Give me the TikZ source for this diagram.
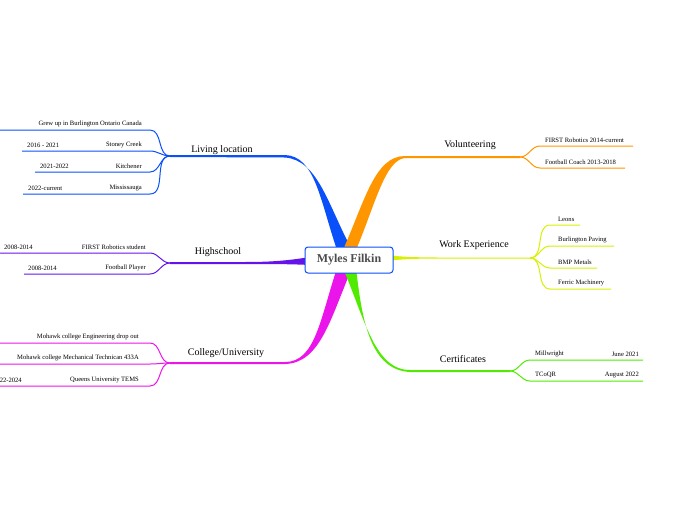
\documentclass[tikz,border=0pt]{standalone}
\usepackage{fontspec}
\setmainfont{Liberation Serif}
\begin{document}
\begin{tikzpicture}[x=1pt,y=-1pt,
  main/.style={font=\fontsize{10}{11}\selectfont,inner sep=1pt},
  leaf/.style={font=\fontsize{6.6}{7.5}\selectfont,inner sep=1pt},
  sub/.style={line width=1pt,rounded corners=0pt}]
\useasboundingbox (0,0) rectangle (697,520);
\definecolor{cLiv}{RGB}{10,80,250}
\definecolor{cHs}{RGB}{100,20,235}
\definecolor{cCol}{RGB}{235,20,235}
\definecolor{cVol}{RGB}{255,150,0}
\definecolor{cWork}{RGB}{215,240,0}
\definecolor{cCert}{RGB}{80,235,0}
% tapered main branches
\fill[cLiv] (337,250) .. controls (320,200) and (315,156) .. (285,155) -- (170,155) -- (170,157) -- (285,157.5) .. controls (318,160) and (328,205) .. (352,250) -- cycle;
\fill[cHs] (310,257) .. controls (280,262) and (260,262) .. (240,262) -- (170,262) -- (170,264) -- (240,264) .. controls (270,264) and (290,264) .. (310,265) -- cycle;
\fill[cCol] (337,268) .. controls (320,320) and (315,362) .. (285,362) -- (170,362) -- (170,364) -- (285,364) .. controls (320,363) and (330,320) .. (352,268) -- cycle;
\fill[cVol] (343,250) .. controls (365,200) and (375,156) .. (405,156) -- (520,156) -- (520,158) -- (405,158) .. controls (385,160) and (375,205) .. (356,250) -- cycle;
\fill[cWork] (388,255) .. controls (400,257) and (420,257.5) .. (440,257.5) -- (530,257.5) -- (530,258.5) -- (440,258.5) .. controls (420,258.5) and (400,259) .. (388,261) -- cycle;
\fill[cCert] (343,268) .. controls (365,320) and (375,370) .. (410,370) -- (510,370) -- (510,372) -- (410,372) .. controls (370,370) and (362,320) .. (356,268) -- cycle;
% center
\node[draw=cLiv,line width=1pt,rounded corners=3pt,fill=white,minimum width=88pt,minimum height=26pt,font=\fontsize{12}{14}\selectfont\bfseries,text=black!70] (c) at (349,260) {Myles Filkin};
% main labels
\node[main] (liv) at (222,150) {Living location};
\node[main] (hs) at (218,252) {Highschool};
\node[main] (col) at (226,353) {College/University};
\node[main] (vol) at (470,145) {Volunteering};
\node[main] (work) at (474,245) {Work Experience};
\node[main] (cert) at (463,359) {Certificates};
% hubs
\coordinate (hL) at (170,156);
\coordinate (hH) at (170,263);
\coordinate (hC) at (170,363);
\coordinate (hV) at (520,157);
\coordinate (hW) at (530,258);
\coordinate (hR) at (510,371);
% Living leaves
\foreach \y/\x [count=\i] in {130/0,151/22,172/35,194/23}{
  \coordinate (la\i) at (150,\y); \coordinate (lb\i) at (\x,\y);
  \draw[cLiv,sub] (hL) to[out=180,in=0] (la\i) -- (lb\i);}
\node[leaf,anchor=south east] at (143,128) {Grew up in Burlington Ontario Canada};
\node[leaf,anchor=south east] at (143,149) {Stoney Creek};
\node[leaf,anchor=south west] at (26,149) {2016 - 2021};
\node[leaf,anchor=south east] at (143,170) {Kitchener};
\node[leaf,anchor=south west] at (39,170) {2021-2022};
\node[leaf,anchor=south east] at (143,192) {Mississauga};
\node[leaf,anchor=south west] at (27,192) {2022-current};
% Highschool leaves
\foreach \y/\x [count=\i] in {253/0,274/24}{
  \coordinate (ha\i) at (150,\y); \coordinate (hb\i) at (\x,\y);
  \draw[cHs,sub] (hH) to[out=180,in=0] (ha\i) -- (hb\i);}
\node[leaf,anchor=south east] at (147,251) {FIRST Robotics student};
\node[leaf,anchor=south west] at (3,251) {2008-2014};
\node[leaf,anchor=south east] at (147,272) {Football Player};
\node[leaf,anchor=south west] at (27,272) {2008-2014};
% College leaves
\foreach \y [count=\i] in {343,364,386}{
  \coordinate (ca\i) at (150,\y); \coordinate (cb\i) at (0,\y);
  \draw[cCol,sub] (hC) to[out=180,in=0] (ca\i) -- (cb\i);}
\node[leaf,anchor=south east] at (140,341) {Mohawk college Engineering drop out};
\node[leaf,anchor=south east] at (140,362) {Mohawk college Mechanical Technican 433A};
\node[leaf,anchor=south east] at (140,384) {Queens University TEMS};
\node[leaf,anchor=south west] at (-8,384) {2022-2024};
% Volunteering leaves
\foreach \y/\x [count=\i] in {146/633,168/625}{
  \coordinate (va\i) at (540,\y); \coordinate (vb\i) at (\x,\y);
  \draw[cVol,sub] (hV) to[out=0,in=180] (va\i) -- (vb\i);}
\node[leaf,anchor=south west] at (544,144) {FIRST Robotics 2014-current};
\node[leaf,anchor=south west] at (544,166) {Football Coach 2013-2018};
% Work leaves
\foreach \y/\x [count=\i] in {225/580,246/614,268/597,289/611}{
  \coordinate (wa\i) at (550,\y); \coordinate (wb\i) at (\x,\y);
  \draw[cWork,sub] (hW) to[out=0,in=180] (wa\i) -- (wb\i);}
\node[leaf,anchor=south west] at (557,223) {Leons};
\node[leaf,anchor=south west] at (557,244) {Burlington Paving};
\node[leaf,anchor=south west] at (557,266) {BMP Metals};
\node[leaf,anchor=south west] at (557,287) {Ferric Machinery};
% Cert leaves
\foreach \y [count=\i] in {360,381}{
  \coordinate (ra\i) at (530,\y); \coordinate (rb\i) at (643,\y);
  \draw[cCert,sub] (hR) to[out=0,in=180] (ra\i) -- (rb\i);}
\node[leaf,anchor=south west] at (534,358) {Millwright};
\node[leaf,anchor=south east] at (640,358) {June 2021};
\node[leaf,anchor=south west] at (534,379) {TCoQR};
\node[leaf,anchor=south east] at (640,379) {August 2022};
\end{tikzpicture}
\end{document}
